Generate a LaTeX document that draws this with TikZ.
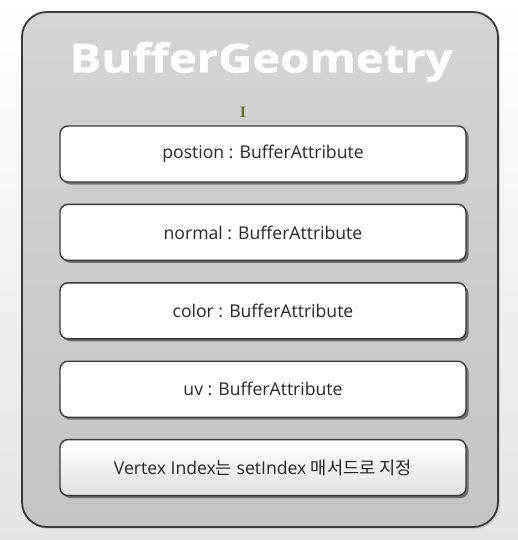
\documentclass[tikz,border=0pt]{standalone}
\usepackage{fontspec}
\setmainfont{Open Sans}
\newfontfamily\titlefont[FakeStretch=1.18, FakeBold=1.2]{Open Sans}
\newfontfamily\krfont{Noto Sans CJK KR}
\newfontfamily\beamfont{Liberation Serif}
\usetikzlibrary{positioning,shadows}

\definecolor{pagebot}{HTML}{E4E4E4}
\definecolor{geomtop}{HTML}{D4D4D4}
\definecolor{geombot}{HTML}{C4C4C4}
\definecolor{edgegray}{HTML}{3A3A3A}

\tikzset{
  attrbox/.style={draw=edgegray, line width=1.4pt, rounded corners=8pt,
    fill=white, minimum width=406pt, minimum height=56pt,
    font=\fontsize{17.6}{20}\selectfont, text=black!85,
    drop shadow={shadow xshift=2.5pt, shadow yshift=-2.5pt, opacity=0.45, fill=black}},
  notebox/.style={attrbox, top color=white, bottom color=black!12}
}

\begin{document}
\begin{tikzpicture}[x=1pt,y=-1pt]

% page and backdrop
\useasboundingbox (0,0) rectangle (518,540);
\shade[top color=white, bottom color=pagebot] (0,0) rectangle (518,540);

% BufferGeometry container
\draw[edgegray, line width=1.8pt, rounded corners=25pt, top color=geomtop, bottom color=geombot,
  drop shadow={shadow xshift=2pt, shadow yshift=-2pt, opacity=0.25}]
  (22,12) rectangle (498,527);
\node[text=white, font=\titlefont\bfseries\fontsize{40}{42}\selectfont] (title) at (261,62) {BufferGeometry};

% text cursor
\node[text=olive!70!black, font=\beamfont\bfseries\fontsize{16}{16}\selectfont] (cursor) at (243,112) {I};

% attributes
\node[attrbox] (position) at (263,154) {postion : BufferAttribute};
\node[attrbox, below=21pt of position] (normal) {normal : BufferAttribute};
\node[attrbox, below=21pt of normal] (color) {color : BufferAttribute};
\node[attrbox, below=21pt of color] (uv) {uv : BufferAttribute};
\node[notebox, below=21pt of uv] (index) {Vertex Index{\krfont 는} setIndex {\krfont 매서드로 지정}};

\end{tikzpicture}
\end{document}
